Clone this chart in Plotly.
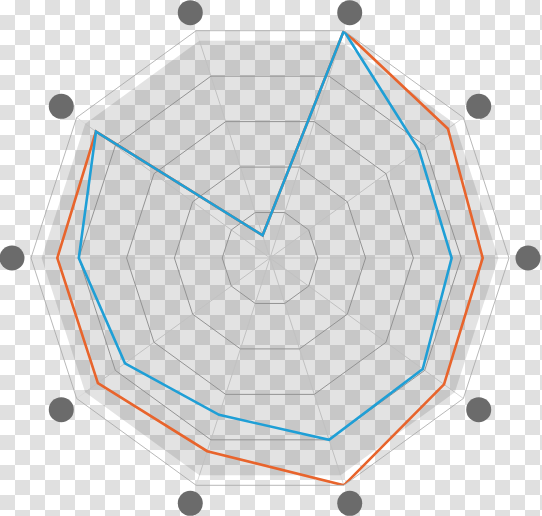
import plotly.graph_objects as go

# eixos do radar (sem rótulos visíveis)
eixos = ["A", "B", "C", "D", "E", "F", "G", "H", "I", "J"]

# valores (escala 0-5)
serie_laranja = [5.0, 4.6, 4.45, 4.5, 5.0, 4.25, 4.45, 4.45, 4.5, 0.5]
serie_azul = [5.0, 3.85, 3.8, 3.95, 4.0, 3.45, 3.75, 4.0, 4.5, 0.5]

nivel_fundo = 4.78   # decágono cinza preenchido

W, H = 542, 516
cel = 15

# fundo xadrez (imagem "transparente")
ncol = W // cel + 2
nlin = H // cel + 2
xadrez = [[(i + j) % 2 for i in range(ncol)] for j in range(nlin)]

fig = go.Figure()

fig.add_trace(go.Heatmap(
    z=xadrez, x0=cel / 2, dx=cel, y0=cel / 2, dy=cel,
    colorscale=[[0, "#ffffff"], [1, "#e0e0e0"]],
    showscale=False, hoverinfo="skip", zsmooth=False,
))

fig.add_trace(go.Scatterpolar(
    r=[nivel_fundo] * len(eixos) + [nivel_fundo], theta=eixos + eixos[:1],
    mode="lines", line=dict(width=0), fill="toself",
    fillcolor="rgba(0,0,0,0.11)", hoverinfo="skip",
))

fig.add_trace(go.Scatterpolar(
    r=serie_laranja + serie_laranja[:1], theta=eixos + eixos[:1],
    mode="lines", line=dict(color="#e8642c", width=2.6),
))

fig.add_trace(go.Scatterpolar(
    r=serie_azul + serie_azul[:1], theta=eixos + eixos[:1],
    mode="lines", line=dict(color="#1f9fd6", width=2.6),
))

# bolinhas cinza num segundo polar, um pouco maior
fig.add_trace(go.Scatterpolar(
    r=[1] * len(eixos), theta=eixos, subplot="polar2",
    mode="markers", marker=dict(size=25, color="#6b6b6b"),
    cliponaxis=False, hoverinfo="skip",
))

cx, cy, raio, raio2 = 270, 258, 239, 258
eixo_ang = dict(rotation=72, direction="clockwise", showticklabels=False, ticks="")

fig.update_layout(
    width=W, height=H,
    margin=dict(l=0, r=0, t=0, b=0),
    showlegend=False,
    paper_bgcolor="white",
    plot_bgcolor="rgba(0,0,0,0)",
    xaxis=dict(range=[0, W], visible=False, fixedrange=True, domain=[0, 1]),
    yaxis=dict(range=[H, 0], visible=False, fixedrange=True, domain=[0, 1]),
    polar=dict(
        domain=dict(x=[(cx - raio) / W, (cx + raio) / W],
                    y=[(H - cy - raio) / H, (H - cy + raio) / H]),
        bgcolor="rgba(0,0,0,0)",
        gridshape="linear",
        radialaxis=dict(range=[0, 5], dtick=1, showticklabels=False, ticks="",
                        showline=False, gridcolor="#a6a6a6", gridwidth=0.8),
        angularaxis=dict(**eixo_ang, showline=True, linecolor="#a6a6a6", linewidth=0.8,
                         gridcolor="#d9d9d9", gridwidth=0.8),
    ),
    polar2=dict(
        domain=dict(x=[(cx - raio2) / W, (cx + raio2) / W],
                    y=[max(0, (H - cy - raio2) / H), min(1, (H - cy + raio2) / H)]),
        bgcolor="rgba(0,0,0,0)",
        radialaxis=dict(range=[0, 1], visible=False, showgrid=False),
        angularaxis=dict(**eixo_ang, showline=False, showgrid=False),
    ),
)

fig.write_html("out.html", config={"displayModeBar": False},
               post_script="document.body.style.margin='0';")
